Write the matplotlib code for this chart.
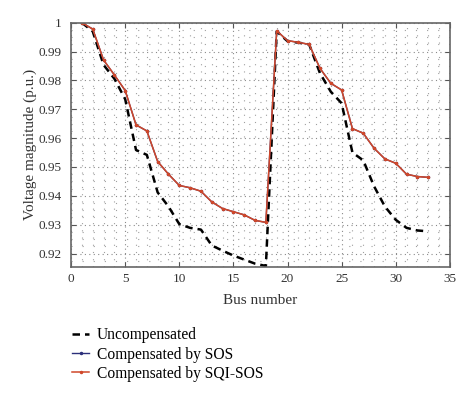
import matplotlib
matplotlib.use("Agg")
import matplotlib.pyplot as plt
from matplotlib.ticker import MultipleLocator

plt.rcParams['font.family'] = ['Liberation Serif', 'DejaVu Serif']

bus = list(range(1, 34))

uncompensated = [1.0, 0.997, 0.9854, 0.9806, 0.9735, 0.9559, 0.9542, 0.9412, 0.9363, 0.9302,
                 0.9289, 0.9283, 0.9228, 0.9210, 0.9193, 0.9179, 0.9165, 0.9157,
                 0.9970, 0.9936, 0.9931, 0.9925, 0.9825, 0.9761, 0.9721, 0.9550,
                 0.9523, 0.9433, 0.9363, 0.9317, 0.9289, 0.9280, 0.9277]

sqi_sos = [1.0, 0.9978, 0.9871, 0.9819, 0.9765, 0.9646, 0.9625, 0.9519, 0.9475, 0.9436,
           0.9428, 0.9416, 0.9379, 0.9356, 0.9345, 0.9334, 0.9315, 0.9308,
           0.9972, 0.9938, 0.9932, 0.9925, 0.9842, 0.9790, 0.9767, 0.9633,
           0.9617, 0.9565, 0.9528, 0.9513, 0.9475, 0.9467, 0.9464]

# SOS result lies under the SQI-SOS curve in the figure
sos = list(sqi_sos)

fig = plt.figure(figsize=(4.74, 3.99), dpi=100)
ax = fig.add_axes([0.150, 0.332, 0.799, 0.611])

# major grid dense dots, minor grid sparse dots
ax.grid(True, which='major', linestyle=(0, (1, 3)), color='#8a8a8a', linewidth=0.8)
ax.xaxis.grid(True, which='minor', linestyle=(0, (1, 5.5)), color='#a0a0a0', linewidth=0.8)
ax.yaxis.grid(True, which='minor', linestyle=(0, (1, 9)), color='#a0a0a0', linewidth=0.8)
ax.set_axisbelow(True)

l1, = ax.plot(bus, uncompensated, color='black', linestyle=(0, (3, 2)), linewidth=1.8,
              label='Uncompensated')
l2, = ax.plot(bus, sos, color='#2b2f7a', linewidth=1.0, marker='.', markersize=3,
              label='Compensated by SOS')
l3, = ax.plot(bus, sqi_sos, color='#d0482a', linewidth=1.1, marker='.', markersize=3,
              label='Compensated by SQI-SOS')

ax.set_xlim(0, 35)
ax.set_ylim(0.9155, 1.0)
ax.xaxis.set_major_locator(MultipleLocator(5))
ax.xaxis.set_minor_locator(MultipleLocator(1))
ax.yaxis.set_minor_locator(MultipleLocator(0.0025))
ax.set_yticks([0.92, 0.93, 0.94, 0.95, 0.96, 0.97, 0.98, 0.99, 1.0])
ax.set_yticklabels(['0.92', '0.93', '0.94', '0.95', '0.96', '0.97', '0.98', '0.99', '1'])

ax.tick_params(which='both', direction='in', top=True, right=True, colors='#555555',
               labelcolor='#333333', labelsize=9.5)
ax.tick_params(axis='y', pad=7)
ax.tick_params(axis='x', pad=5)
ax.tick_params(which='minor', length=0)
for s in ax.spines.values():
    s.set_color('#666666')
    s.set_linewidth(1.2)

ax.set_xlabel('Bus number', fontsize=11, color='#333333', labelpad=6)
ax.set_ylabel('Voltage magnitude (p.u.)', fontsize=11, color='#333333', labelpad=1)

fig.legend(handles=[l1, l2, l3], loc='upper left', bbox_to_anchor=(0.139, 0.195),
           frameon=False, fontsize=11.2, handlelength=1.1, handletextpad=0.5,
           labelspacing=0.2, borderaxespad=0)

fig.savefig('out.png', dpi=100)
